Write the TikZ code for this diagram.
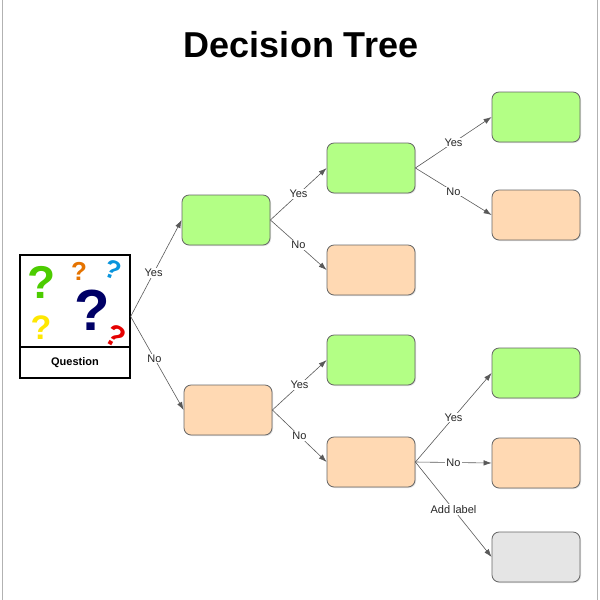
\documentclass[tikz,border=0pt]{standalone}
\usepackage{fontspec}
\setmainfont{Liberation Sans}
\usetikzlibrary{arrows.meta}
\usetikzlibrary{shadows}
\tikzset{>={Latex[length=8pt,width=5.5pt]}}
\definecolor{leafgreen}{HTML}{B3FF85}
\definecolor{leaforange}{HTML}{FFD9B3}
\definecolor{leafgray}{HTML}{E5E5E5}
\tikzset{
	choice/.style={draw=black!60,line width=0.8pt,rounded corners=2.5mm,minimum width=88pt,minimum height=50pt,drop shadow={opacity=0.25,shadow xshift=1pt,shadow yshift=-1pt}},
	branch/.style={->,draw=black!65,line width=0.6pt},
	tag/.style={fill=white,inner sep=1pt,font=\fontsize{11}{11}\selectfont,text=black!85},
	qmark/.style={font=\bfseries\fontsize{#1}{#1}\selectfont,inner sep=0pt}
}
\begin{document}
\begin{tikzpicture}[x=1pt,y=-1pt]
	\useasboundingbox (0,0) rectangle (600,600);
	\draw[black!30,line width=1pt] (2,0)--(2,600) (597,0)--(597,600);
	\node[font=\bfseries\fontsize{36}{36}\selectfont] (title) at (301,45) {Decision Tree};
	% question card
	\node[draw,line width=1.3pt,minimum width=110pt,minimum height=123pt] (question) at (75,316.5) {};
	\draw[line width=1.1pt] (20,347)--(130,347);
	\node[font=\bfseries\fontsize{11}{11}\selectfont] (qlabel) at (75,363) {Question};
	\node[qmark=46,text=green!50!lime!80!black] (q1) at (42,282) {?};
	\node[qmark=26,text=orange!90!black] (q2) at (79,271) {?};
	\node[qmark=26,text=cyan!80!blue,rotate=-20] (q3) at (113,270) {?};
	\node[qmark=58,text=blue!40!black] (q4) at (92,310) {?};
	\node[qmark=34,text=yellow!90!orange] (q5) at (41,328) {?};
	\node[qmark=30,text=red!90!black,rotate=-30] (q6) at (116,336) {?};
	% decision boxes
	\node[choice,fill=leafgreen] (yesA) at (226,220) {};
	\node[choice,fill=leaforange] (noA) at (228,410) {};
	\node[choice,fill=leafgreen] (yesB) at (371,168) {};
	\node[choice,fill=leaforange] (noB) at (371,270) {};
	\node[choice,fill=leafgreen] (yesC) at (371,360) {};
	\node[choice,fill=leaforange] (noC) at (371,462) {};
	\node[choice,fill=leafgreen] (yesD) at (536,117) {};
	\node[choice,fill=leaforange] (noD) at (536,215) {};
	\node[choice,fill=leafgreen] (yesE) at (536,373) {};
	\node[choice,fill=leaforange] (noE) at (536,463) {};
	\node[choice,fill=leafgray] (extraE) at (536,557) {};
	% branches
	\draw[branch] (question.east)--node[tag,pos=0.45]{Yes}(yesA.west);
	\draw[branch] (question.east)--node[tag,pos=0.45]{No}(noA.west);
	\draw[branch] (yesA.east)--node[tag]{Yes}(yesB.west);
	\draw[branch] (yesA.east)--node[tag]{No}(noB.west);
	\draw[branch] (yesB.east)--node[tag]{Yes}(yesD.west);
	\draw[branch] (yesB.east)--node[tag]{No}(noD.west);
	\draw[branch] (noA.east)--node[tag]{Yes}(yesC.west);
	\draw[branch] (noA.east)--node[tag]{No}(noC.west);
	\draw[branch] (noC.east)--node[tag]{Yes}(yesE.west);
	\draw[branch] (noC.east)--node[tag]{No}(noE.west);
	\draw[branch] (noC.east)--node[tag]{Add label}(extraE.west);
\end{tikzpicture}
\end{document}
